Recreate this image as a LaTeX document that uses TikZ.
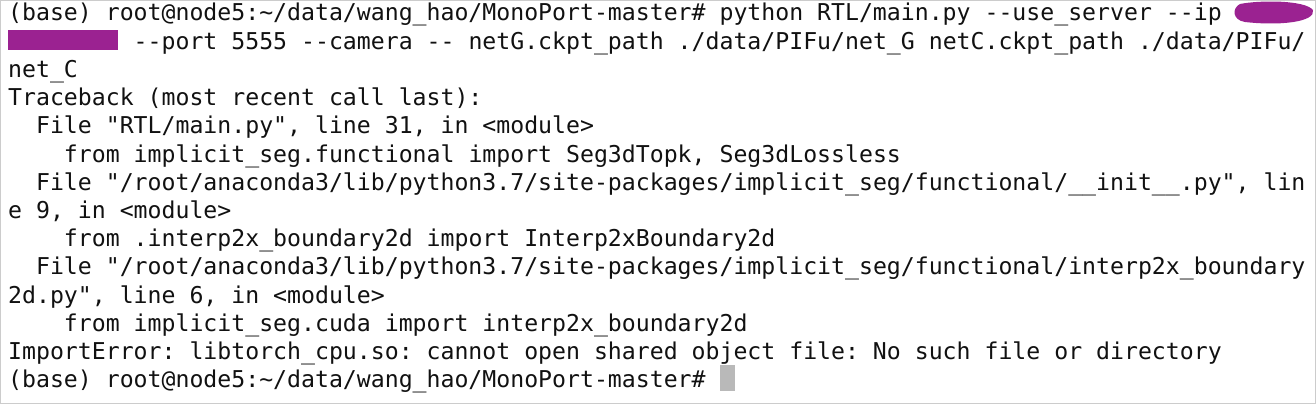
\documentclass[tikz,border=0pt]{standalone}
\usepackage{fontspec}
\setmonofont{DejaVu Sans Mono}
\definecolor{redact}{HTML}{9B2291}
\definecolor{txt}{HTML}{111111}
\tikzset{ln/.style={anchor=base west,inner sep=0pt,font=\ttfamily\fontsize{23.17pt}{28pt}\selectfont,text=txt}}
\begin{document}
\begin{tikzpicture}[x=1pt,y=-1pt]
\useasboundingbox (0,0) rectangle (1316,404);
\fill[white] (0,0) rectangle (1316,404);
\draw[gray!40] (0.5,0.5) rectangle (1315.5,403.5);
\foreach \i/\t in {0/{(base) root@node5:\string~/data/wang\_hao/MonoPort-master\# python RTL/main.py --use\_server --ip },
1/{\ \ \ \ \ \ \ \ \ --port 5555 --camera -- netG.ckpt\_path ./data/PIFu/net\_G netC.ckpt\_path ./data/PIFu/},
2/{net\_C},
3/{Traceback (most recent call last):},
4/{\ \ File "RTL/main.py", line 31, in <module>},
5/{\ \ \ \ from implicit\_seg.functional import Seg3dTopk, Seg3dLossless},
6/{\ \ File "/root/anaconda3/lib/python3.7/site-packages/implicit\_seg/functional/\_\_init\_\_.py", lin},
7/{e 9, in <module>},
8/{\ \ \ \ from .interp2x\_boundary2d import Interp2xBoundary2d},
9/{\ \ File "/root/anaconda3/lib/python3.7/site-packages/implicit\_seg/functional/interp2x\_boundary},
10/{2d.py", line 6, in <module>},
11/{\ \ \ \ from implicit\_seg.cuda import interp2x\_boundary2d},
12/{ImportError: libtorch\_cpu.so: cannot open shared object file: No such file or directory},
13/{(base) root@node5:\string~/data/wang\_hao/MonoPort-master\# }}
  \node[ln] (l\i) at (8,{21+28.2*\i}) {\t};
\fill[redact] (1240,4) .. controls (1260,0) and (1305,0) .. (1313,10) .. controls (1316,22) and (1280,26) .. (1245,22) .. controls (1232,20) and (1232,8) .. (1240,4);
\fill[redact] (8,30) rectangle (118,50);
\fill[gray!55] (720,365) rectangle (735,391);
\end{tikzpicture}
\end{document}
